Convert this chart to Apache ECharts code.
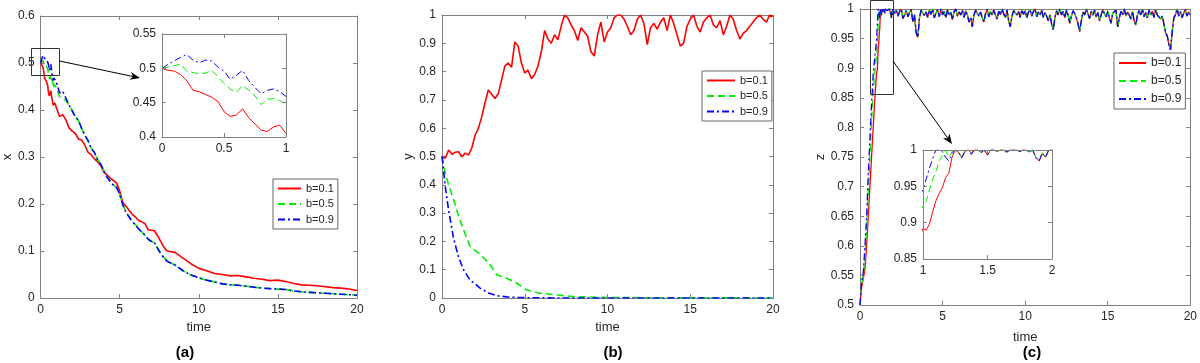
<!DOCTYPE html>
<html>
<head>
<meta charset="utf-8">
<script src="https://cdn.jsdelivr.net/npm/echarts@6/dist/echarts.min.js"></script>
<style>
  html, body { margin: 0; padding: 0; background: #fff; }
  #chart { width: 1200px; height: 363px; }
</style>
</head>
<body>
<div id="chart"></div>
<script>
// series names / colours (MATLAB style r, g--, b-.)
const names = ['b=0.1', 'b=0.5', 'b=0.9'];

// ---- panel (a): x(t) ----
const tA = [
  0, 0.05, 0.1, 0.15, 0.2, 0.25, 0.3, 0.35, 0.4, 0.45,
  0.5, 0.55, 0.6, 0.65, 0.7, 0.75, 0.8, 0.85, 0.9, 0.95,
  1,
  1.2, 1.4, 1.6, 1.8, 2, 2.2, 2.4, 2.6, 2.8, 3,
  3.2, 3.4, 3.6, 3.8, 4, 4.2, 4.4, 4.6, 4.8, 5,
  5.2, 5.4, 5.6, 5.8, 6, 6.2, 6.4, 6.6, 6.8, 7,
  7.2, 7.4, 7.6, 7.8, 8,
  8.5, 9, 9.5, 10, 10.5, 11, 11.5, 12, 12.5, 13,
  13.5, 14, 14.5, 15, 15.5, 16, 16.5, 17, 17.5, 18,
  18.5, 19, 19.5, 20
];
const xRed = [
  0.5, 0.497, 0.496, 0.491, 0.482, 0.468, 0.466, 0.462, 0.458, 0.452,
  0.437, 0.43, 0.432, 0.441, 0.428, 0.419, 0.41, 0.408, 0.415, 0.417,
  0.405,
  0.386, 0.39, 0.379, 0.362, 0.355, 0.35, 0.338, 0.336, 0.325, 0.31,
  0.305, 0.296, 0.29, 0.282, 0.268, 0.262, 0.255, 0.25, 0.245, 0.228,
  0.203, 0.195, 0.186, 0.178, 0.172, 0.165, 0.162, 0.158, 0.145, 0.144,
  0.143, 0.132, 0.12, 0.108, 0.1,
  0.097, 0.085, 0.073, 0.063, 0.058, 0.052, 0.05, 0.047, 0.048, 0.045,
  0.042, 0.04, 0.037, 0.038, 0.035, 0.031, 0.028, 0.027, 0.026, 0.024,
  0.022, 0.021, 0.019, 0.016
];
const xGreen = [
  0.5, 0.502, 0.504, 0.506, 0.496, 0.494, 0.492, 0.493, 0.497, 0.488,
  0.478, 0.47, 0.465, 0.475, 0.468, 0.46, 0.447, 0.455, 0.456, 0.453,
  0.448,
  0.428, 0.424, 0.42, 0.41, 0.399, 0.386, 0.377, 0.361, 0.347, 0.334,
  0.319, 0.309, 0.295, 0.284, 0.271, 0.258, 0.249, 0.241, 0.235, 0.221,
  0.199, 0.183, 0.173, 0.162, 0.156, 0.148, 0.141, 0.133, 0.126, 0.121,
  0.117, 0.106, 0.095, 0.086, 0.079,
  0.07, 0.058, 0.049, 0.043, 0.038, 0.034, 0.03, 0.028, 0.027, 0.025,
  0.023, 0.021, 0.02, 0.019, 0.018, 0.015, 0.013, 0.012, 0.011, 0.01,
  0.009, 0.008, 0.007, 0.006
];
const xBlue = [
  0.5, 0.506, 0.511, 0.516, 0.52, 0.512, 0.508, 0.512, 0.511, 0.502,
  0.496, 0.484, 0.49, 0.497, 0.482, 0.472, 0.463, 0.468, 0.47, 0.466,
  0.459,
  0.436, 0.44, 0.425, 0.41, 0.398, 0.385, 0.378, 0.36, 0.346, 0.335,
  0.318, 0.31, 0.294, 0.285, 0.27, 0.257, 0.248, 0.24, 0.236, 0.22,
  0.198, 0.182, 0.172, 0.163, 0.155, 0.147, 0.14, 0.134, 0.125, 0.12,
  0.118, 0.105, 0.094, 0.085, 0.078,
  0.07, 0.058, 0.049, 0.043, 0.038, 0.034, 0.03, 0.028, 0.027, 0.025,
  0.023, 0.021, 0.02, 0.019, 0.018, 0.015, 0.013, 0.012, 0.011, 0.01,
  0.009, 0.008, 0.007, 0.006
];

// ---- panel (b): y(t) ----
const tB = Array.from({ length: 101 }, (_, i) => +(i * 0.2).toFixed(1));
const yRed = [
  0.5, 0.494, 0.523, 0.508, 0.515, 0.517, 0.499, 0.512, 0.505, 0.53,
  0.575, 0.6, 0.64, 0.69, 0.735, 0.72, 0.705, 0.722, 0.77, 0.82,
  0.83, 0.815, 0.905, 0.89, 0.83, 0.795, 0.805, 0.775, 0.79, 0.82,
  0.87, 0.945, 0.915, 0.9, 0.93, 0.912, 0.96, 1, 0.99, 0.965,
  0.945, 0.91, 0.955, 0.94, 0.925, 0.87, 0.855, 0.93, 0.975, 0.905,
  0.94, 0.955, 0.99, 1, 1, 0.985, 0.96, 0.93, 0.945, 0.985,
  1, 0.97, 0.895, 0.955, 0.97, 0.95, 0.975, 0.99, 0.945, 1,
  0.97, 0.93, 0.89, 0.9, 0.96, 0.985, 1, 0.96, 0.94, 0.975,
  0.99, 1, 0.965, 0.955, 0.98, 0.93, 0.96, 1, 0.985, 0.945,
  0.915, 0.935, 0.945, 0.96, 0.975, 0.99, 1, 0.985, 0.975, 1,
  0.995
];
const tBs = [0, 0.2, 0.4, 0.7, 1, 1.3, 1.7, 2, 2.3, 2.8, 3, 3.3, 3.9, 4.5, 5.1, 5.9, 6.9, 7.9, 9.9, 12, 20];
const yGreen = [0.5, 0.44, 0.4, 0.347, 0.29, 0.241, 0.182, 0.168, 0.155, 0.124, 0.11, 0.082, 0.07, 0.053, 0.029, 0.017, 0.011, 0.005, 0.002, 0.001, 0];
const yBlue = [0.5, 0.393, 0.31, 0.21, 0.145, 0.1, 0.063, 0.05, 0.035, 0.018, 0.014, 0.008, 0.004, 0.002, 0.001, 0.001, 0, 0, 0, 0, 0];

// ---- panel (c): z(t) ----
const tC = [].concat(
  Array.from({ length: 10 }, (_, i) => +(i * 0.1).toFixed(2)),
  Array.from({ length: 41 }, (_, i) => +(1 + i * 0.025).toFixed(3)),
  Array.from({ length: 180 }, (_, i) => +(2.1 + i * 0.1).toFixed(1))
);
const zRedHead = [
  0.5, 0.53, 0.545, 0.56, 0.6, 0.65, 0.7, 0.75, 0.8, 0.85,
  0.892, 0.89, 0.898, 0.915, 0.93, 0.94, 0.948, 0.962, 0.968, 0.99,
  1, 0.997, 0.99, 0.998, 1, 0.996, 1, 1, 0.997, 1,
  0.993, 1, 1, 0.998, 1, 1, 0.998, 1, 1, 1,
  0.998, 1, 1, 0.998, 1, 0.99, 0.985, 0.995, 0.99, 1,
  1
];
const zGreenHead = [
  0.5, 0.535, 0.55, 0.58, 0.63, 0.69, 0.75, 0.81, 0.86, 0.895,
  0.922, 0.93, 0.945, 0.96, 0.97, 0.985, 0.992, 1, 0.99, 0.998,
  1, 0.996, 0.99, 0.998, 1, 0.995, 1, 1, 0.997, 1,
  0.994, 1, 1, 0.998, 1, 1, 0.997, 1, 1, 1,
  0.998, 1, 1, 0.997, 1, 0.99, 0.986, 0.996, 0.99, 1,
  1
];
const zBlueHead = [
  0.5, 0.54, 0.555, 0.6, 0.65, 0.72, 0.78, 0.84, 0.89, 0.92,
  0.945, 0.96, 0.975, 0.988, 1, 1, 0.998, 0.99, 0.985, 0.995,
  1, 0.997, 0.989, 0.998, 1, 0.994, 1, 1, 0.996, 1,
  0.993, 1, 1, 0.998, 1, 1, 0.997, 1, 1, 1,
  0.998, 1, 1, 0.997, 1, 0.989, 0.985, 0.996, 0.99, 1,
  1
];
// after t≈2 the three paths coincide at this scale (t = 2.1 ... 20, step 0.1)
const zTail = [
  0.993, 0.998, 0.988, 0.996, 1, 0.984, 0.99, 0.997, 0.987, 0.994,
  0.999, 0.978, 0.99, 0.96, 0.952, 0.985, 0.998, 1, 0.989, 0.995,
  0.986, 0.998, 0.991, 1, 0.985, 0.993, 0.999, 0.987, 1, 0.99,
  0.996, 0.985, 0.999, 0.99, 0.994, 0.982, 0.996, 1, 0.988, 0.995,
  0.99, 0.998, 0.986, 0.997, 0.99, 0.978, 0.985, 0.97, 0.99, 0.998,
  1, 0.988, 0.995, 0.985, 0.978, 0.992, 0.999, 0.987, 0.996, 0.99,
  0.998, 0.99, 0.983, 0.996, 0.99, 1, 0.992, 0.985, 0.998, 0.98,
  0.97, 0.988, 0.997, 1, 0.99, 0.996, 0.986, 0.999, 0.991, 0.997,
  0.985, 0.995, 0.999, 0.988, 0.996, 1, 0.987, 0.995, 0.99, 0.998,
  0.986, 0.994, 0.988, 0.98, 0.99, 0.975, 0.965, 0.985, 0.997, 0.99,
  1, 0.99, 0.996, 0.985, 0.998, 0.99, 0.976, 0.988, 0.997, 0.992,
  0.985, 0.975, 0.962, 0.98, 0.995, 0.99, 1, 0.992, 0.984, 0.996,
  0.99, 0.998, 0.986, 0.994, 0.98, 0.99, 0.999, 0.992, 0.987, 0.996,
  0.985, 0.976, 0.993, 0.99, 0.998, 0.97, 0.985, 0.996, 0.99, 1,
  0.988, 0.995, 0.99, 0.983, 0.996, 0.98, 0.973, 0.99, 0.998, 0.99,
  1, 0.987, 0.994, 0.985, 0.998, 0.99, 0.996, 0.986, 0.999, 0.99,
  0.993, 0.983, 0.988, 0.975, 0.96, 0.955, 0.94, 0.931, 0.96, 0.985,
  0.99, 1, 0.988, 0.996, 0.985, 0.993, 0.999, 0.988, 0.995, 0.99
];

const FONT = 'Liberation Sans';
const lineTypes = [
  { color: '#ff0000', type: 'solid' },
  { color: '#00ee00', type: [7, 4] },
  { color: '#0000ff', type: [7, 3, 2, 3] }
];

function zip(t, v) {
  return v.map((y, i) => [t[i], y]);
}

const grids = [
  { left: 39, top: 16, width: 318, height: 282 },    // a
  { left: 162, top: 34, width: 124, height: 103 },   // a inset
  { left: 442, top: 15, width: 331, height: 283 },   // b
  { left: 860, top: 9, width: 334, height: 296 },    // c
  { left: 923, top: 150, width: 129, height: 109 }   // c inset
];
const insets = [1, 4];
const xAxes = [];
const yAxes = [];
const series = [];

function axisBase(show, z) {
  return {
    z: z,
    axisLine: { show: true, onZero: false, lineStyle: { color: '#808080', width: 1 } },
    axisTick: { show: true, inside: true, length: 4, lineStyle: { color: '#808080' } },
    axisLabel: { show: show, color: '#262626', fontSize: 12, fontFamily: FONT, margin: 6 },
    splitLine: { show: false }
  };
}

function addBox(g, xr, yr, xName, yName) {
  const z = insets.includes(g) ? 8 : 1;
  xAxes.push(Object.assign(axisBase(true, z), {
    type: 'value', gridIndex: g, position: 'bottom', min: xr[0], max: xr[1], interval: xr[2],
    name: xName, nameLocation: 'middle', nameGap: 22,
    nameTextStyle: { fontSize: 13, color: '#262626', fontFamily: FONT }
  }));
  xAxes.push(Object.assign(axisBase(false, z), {
    type: 'value', gridIndex: g, position: 'top', min: xr[0], max: xr[1], interval: xr[2]
  }));
  yAxes.push(Object.assign(axisBase(true, z), {
    type: 'value', gridIndex: g, position: 'left', min: yr[0], max: yr[1], interval: yr[2],
    name: yName, nameLocation: 'middle', nameGap: 28, nameRotate: 90,
    nameTextStyle: { fontSize: 13, color: '#262626', fontFamily: FONT }
  }));
  yAxes.push(Object.assign(axisBase(false, z), {
    type: 'value', gridIndex: g, position: 'right', min: yr[0], max: yr[1], interval: yr[2]
  }));
}

function addLines(g, sets, width) {
  const z = insets.includes(g) ? 7 : 2;
  sets.forEach((d, i) => {
    series.push({
      type: 'line', name: names[i], xAxisIndex: 2 * g, yAxisIndex: 2 * g, z: z,
      data: d, showSymbol: false, symbol: 'none', clip: true, animation: false,
      lineStyle: { color: lineTypes[i].color, type: lineTypes[i].type, width: width },
      itemStyle: { color: lineTypes[i].color }
    });
  });
}

addBox(0, [0, 20, 5], [0, 0.6, 0.1], 'time', 'x');
addBox(1, [0, 1, 0.5], [0.4, 0.55, 0.05], '', '');
addBox(2, [0, 20, 5], [0, 1, 0.1], 'time', 'y');
addBox(3, [0, 20, 5], [0.5, 1, 0.05], 'time', 'z');
addBox(4, [1, 2, 0.5], [0.85, 1, 0.05], '', '');
yAxes[0].nameGap = 26;
yAxes[4].nameGap = 24;
yAxes[6].nameGap = 32;
xAxes[6].nameGap = 26;

const aSets = [zip(tA, xRed), zip(tA, xGreen), zip(tA, xBlue)];
const bSets = [zip(tB, yRed), zip(tBs, yGreen), zip(tBs, yBlue)];
const cSets = [zip(tC, zRedHead.concat(zTail)), zip(tC, zGreenHead.concat(zTail)), zip(tC, zBlueHead.concat(zTail))];
addLines(0, aSets, 1.6);
addLines(1, aSets, 1);
addLines(2, bSets, 1.6);
addLines(3, cSets, 1.3);
addLines(4, cSets, 1);

function legendAt(left, top, iw, gap, fs) {
  return {
    left: left, top: top, orient: 'vertical', data: names, selectedMode: false,
    itemWidth: iw, itemHeight: 10, itemGap: gap, padding: [4, 4, 4, 4],
    itemStyle: { opacity: 0 },
    borderColor: '#666', borderWidth: 1, backgroundColor: '#fff',
    textStyle: { fontSize: fs, color: '#262626', fontFamily: FONT }
  };
}

function label(text, x) {
  return {
    type: 'text', x: x, y: 353,
    style: { text: text, fill: '#000', font: 'bold 15px "Liberation Sans"', textAlign: 'center', textVerticalAlign: 'middle' }
  };
}

const option = {
  backgroundColor: '#fff',
  animation: false,
  grid: grids.map((g, i) => Object.assign({}, g, {
    show: insets.includes(i), backgroundColor: '#fff', borderWidth: 0, z: insets.includes(i) ? 5 : 0
  })),
  xAxis: xAxes,
  yAxis: yAxes,
  legend: [
    legendAt(273, 179, 23, 4.5, 11),
    legendAt(702, 71, 28, 4.5, 11),
    legendAt(1114, 53, 27, 6, 12)
  ],
  series: series,
  graphic: [
    // zoom box + arrow, panel (a)
    { type: 'rect', z: 100, shape: { x: 31.5, y: 48.5, width: 28, height: 27 }, style: { fill: 'none', stroke: '#333', lineWidth: 1 } },
    { type: 'line', z: 100, shape: { x1: 59.5, y1: 61, x2: 133, y2: 76.5 }, style: { stroke: '#000', lineWidth: 1 } },
    { type: 'polygon', z: 100, shape: { points: [[140, 78], [129.4, 79.8], [133.1, 76.6], [131, 72]] }, style: { fill: '#000' } },
    // zoom box + arrow, panel (c)
    { type: 'rect', z: 100, shape: { x: 870.5, y: 0.5, width: 23, height: 94 }, style: { fill: 'none', stroke: '#333', lineWidth: 1 } },
    { type: 'line', z: 100, shape: { x1: 893, y1: 61, x2: 947.9, y2: 138.3 }, style: { stroke: '#000', lineWidth: 1 } },
    { type: 'polygon', z: 100, shape: { points: [[952, 144], [942.9, 138.2], [947.9, 138.3], [949.4, 133.5]] }, style: { fill: '#000' } },
    label('(a)', 185),
    label('(b)', 613),
    label('(c)', 1032)
  ]
};

const chart = echarts.init(document.getElementById('chart'), null, { renderer: 'canvas' });
chart.setOption(option);
</script>
</body>
</html>
